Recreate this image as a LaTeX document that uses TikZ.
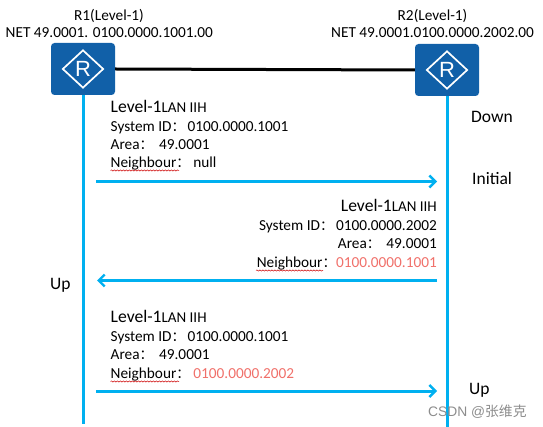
\documentclass[tikz,border=0pt]{standalone}
\usepackage{fontspec}
\setmainfont{Carlito}
\newfontfamily\cjkfont{Noto Sans CJK SC}
\newfontfamily\arialfont{Liberation Sans}
\usetikzlibrary{shapes.geometric,arrows.meta,decorations.pathmorphing}
\definecolor{lifeblue}{HTML}{00B0F0}
\definecolor{routerblue}{HTML}{1160A8}
\definecolor{softred}{HTML}{F0706A}
\newcommand{\fwc}{{\cjkfont\fontsize{13.5}{14}\selectfont ：}}
\newcommand{\lvl}{{\fontsize{17.6}{18}\selectfont Level-1}{\fontsize{15}{14}\selectfont LAN IIH}}
\tikzset{
  routerbox/.style={draw=none,fill=routerblue,rounded corners=3.5pt,minimum width=64pt,minimum height=52pt,inner sep=0pt},
  routermark/.style={shape=diamond,draw=white,line width=1.7pt,minimum width=41pt,minimum height=38pt,inner sep=0pt,
     text=white,font=\arialfont\fontsize{22}{22}\selectfont},
  lifeline/.style={draw=lifeblue,line width=3pt},
  msg/.style={draw=lifeblue,line width=3pt,-{Straight Barb[length=6pt,width=12pt,line width=2.4pt]}},
  link/.style={draw=black,line width=3pt},
  lbl/.style={font=\fontsize{15.3}{15}\selectfont,inner sep=0pt,anchor=base west},
  lblr/.style={font=\fontsize{15.3}{15}\selectfont,inner sep=0pt,anchor=base east},
  state/.style={font=\fontsize{17.5}{18}\selectfont,inner sep=0pt,anchor=base west},
  squiggle/.style={draw=red!80!black,line width=0.5pt,decorate,decoration={snake,amplitude=0.6pt,segment length=3pt}},
}
\begin{document}
\begin{tikzpicture}[x=1pt,y=-1pt]
\useasboundingbox (0,0) rectangle (543,427);
% headers
\node[lbl,anchor=base] (h1a) at (109,20.5) {R1(Level-1)};
\node[lbl] (h1b) at (5.5,38) {NET 49.0001. 0100.0000.1001.00};
\node[lbl,anchor=base] (h2a) at (432.5,20.5) {R2(Level-1)};
\node[lbl] (h2b) at (331,38) {NET 49.0001.0100.0000.2002.00};
% routers
\node[routerbox] (r1) at (83,69) {};
\node[routerbox] (r2) at (447,70) {};
\node[routermark] (m1) at (r1.center) {R};
\node[routermark] (m2) at (r2.center) {R};
% connectors
\draw[link] (r1.east) -- (r2.west);
\coordinate (b1) at (83.5,424);
\coordinate (b2) at (447.5,427);
\draw[lifeline] (r1.south -| b1) -- (b1);
\draw[lifeline] (r2.south -| b2) -- (b2);
\coordinate (a1s) at (96,181.5); \coordinate (a1e) at (437,181.5);
\coordinate (a2s) at (437,280.5); \coordinate (a2e) at (97,280.5);
\coordinate (a3s) at (96,391); \coordinate (a3e) at (437,391);
\draw[msg] (a1s) -- (a1e);
\draw[msg] (a2s) -- (a2e);
\draw[msg] (a3s) -- (a3e);
% block 1
\node[lbl] (t1a) at (110.5,112.5) {\lvl};
\node[lbl] (t1b) at (110.5,132) {System ID\fwc\hspace{2.5pt}0100.0000.1001};
\node[lbl] (t1c) at (110.5,149.5) {Area\fwc\hspace{6pt}49.0001};
\node[lbl] (t1d) at (110.5,167.5) {Neighbour\fwc\ null};
\draw[squiggle] (110.5,170.5) -- (179,170.5);
% block 2
\node[lblr] (t2a) at (437,211.5) {\lvl};
\node[lblr] (t2b) at (437,230.5) {System ID\fwc\hspace{2.5pt}0100.0000.2002};
\node[lblr] (t2c) at (437,248.5) {Area\fwc\hspace{6pt}49.0001};
\node[lblr] (t2d) at (437,267.5) {Neighbour\fwc\textcolor{softred}{0100.0000.1001}};
\draw[squiggle] (256,270.5) -- (323,270.5);
% block 3
\node[lbl] (t3a) at (110.5,322.5) {\lvl};
\node[lbl] (t3b) at (110.5,341.5) {System ID\fwc\hspace{2.5pt}0100.0000.1001};
\node[lbl] (t3c) at (110.5,359.5) {Area\fwc\hspace{6pt}49.0001};
\node[lbl] (t3d) at (110.5,378) {Neighbour\fwc\ \textcolor{softred}{0100.0000.2002}};
\draw[squiggle] (110.5,381.5) -- (179,381.5);
% states
\node[state] (s1) at (471,122.5) {Down};
\node[state] (s2) at (472,184.5) {Initial};
\node[state] (s3) at (50,289.5) {Up};
\node[state] (s4) at (469,394.5) {Up};
% watermark
\node[inner sep=0pt,anchor=base west,text=black!45,font=\arialfont\fontsize{13.8}{14}\selectfont] (wm) at (428,416) {CSDN @{\cjkfont 张维克}};
\end{tikzpicture}
\end{document}
